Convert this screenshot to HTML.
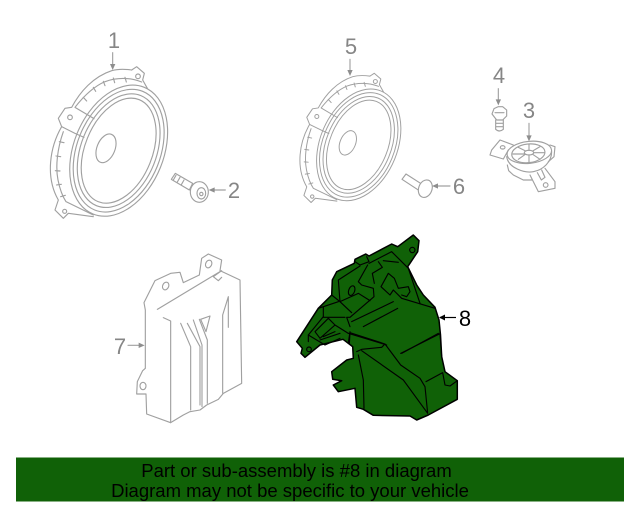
<!DOCTYPE html>
<html><head><meta charset="utf-8"><style>
html,body{margin:0;padding:0;background:#fff;width:640px;height:512px;overflow:hidden}
svg{display:block}
text{font-family:"Liberation Sans",sans-serif}
.l{font-size:22px;fill:#868686;text-anchor:middle}
.g{fill:none;stroke:#a0a0a0;stroke-width:3.4;stroke-linejoin:round;stroke-linecap:round}
.k{fill:none;stroke:#000;stroke-width:3.4;stroke-linejoin:round;stroke-linecap:round}
</style></head><body>
<svg width="640" height="512" viewBox="0 0 640 512" xmlns="http://www.w3.org/2000/svg">
<defs>
<g id="spk">
<path class="g" d="M305,150Q270,145 245,152C190,170 150,215 125,262L105,265L85,295L95,320C60,380 45,470 85,540L75,570L100,595L115,580L190,590"/>
<path class="g" d="M305,150L320,140L343,160L338,180L352,205"/>
<circle class="g" cx="324" cy="169" r="7"/>
<circle class="g" cx="120" cy="292" r="7"/>
<circle class="g" cx="104" cy="574" r="6"/>
<ellipse class="g" cx="266" cy="392" rx="135" ry="205" transform="rotate(22 266 392)"/>
<ellipse class="g" cx="266" cy="392" rx="125" ry="192" transform="rotate(22 266 392)"/>
<ellipse class="g" cx="266" cy="392" rx="113" ry="178" transform="rotate(22 266 392)"/>
<ellipse class="g" cx="266" cy="392" rx="101" ry="165" transform="rotate(22 266 392)"/>
<ellipse class="g" cx="228" cy="385" rx="27" ry="45" transform="rotate(22 228 385)"/>
<path class="g" d="M335,186C300,172 260,172 225,185C190,200 160,230 135,262L192,296M95,320L135,340L162,352M100,335C82,385 76,440 84,480C90,510 98,530 108,545L190,585"/>
<path class="g" d="M285,172l4,14M250,174l4,14M220,184l5,13M190,202l7,12M160,232l10,11M88,365l14,3M78,408l14,2M76,452l14,1M80,495l14,-2M92,530l14,-4"/>
</g>
</defs>

<!-- Speaker 1 -->
<g transform="translate(30,20) scale(.33333)">
<use href="#spk"/>
<path class="g" d="M248,98V140"/>
<path d="M240,132L248,150L256,132Z" fill="#8e8e8e"/>
<path class="g" d="M436,460L424,478L478,510L488,490Z"/>
<path class="g" d="M438,466l-8,14M450,472l-8,14M462,480l-8,14"/>
<ellipse class="g" cx="508" cy="516" rx="27" ry="31" style="fill:#fff"/>
<ellipse class="g" cx="514" cy="520" rx="13" ry="17"/>
<circle class="g" cx="514" cy="522" r="5"/>
<path class="g" d="M552,510H586"/>
<path d="M536,510L554,502V518Z" fill="#8e8e8e"/>
</g>

<!-- Speaker 5 -->
<g transform="translate(297.3,73.3) scale(.287,.284) translate(-52,-140)">
<use href="#spk"/>
</g>
<g transform="translate(280,20) scale(.33333)">
<path class="g" d="M210,118V158"/><path d="M202,150L210,168L218,150Z" fill="#8e8e8e"/>
<path class="g" d="M378,462L366,478L418,512L428,494Z"/>
<ellipse class="g" cx="436" cy="506" rx="20" ry="27" transform="rotate(20 436 506)" style="fill:#fff"/>
<path class="g" d="M472,498H510"/><path d="M456,498L474,490V506Z" fill="#8e8e8e"/>
<path class="g" d="M655,206V246"/><path d="M647,238L655,256L663,238Z" fill="#8e8e8e"/>
</g>

<!-- bolt 4 + tweeter 3 -->
<g transform="translate(480,90) scale(.33333)">
<path class="g" d="M36,72L42,56L55,50H68L80,60L80,78L68,90H50Z"/>
<path class="g" d="M45,68H72"/>
<path class="g" d="M47,90V118Q58,128 70,118V90M47,100h23M47,110h23"/>
<path class="g" d="M147,100V143"/><path d="M139,136L147,154L155,136Z" fill="#8e8e8e"/>
<path class="g" d="M100,165L60,150L35,180L30,195L70,207L85,180"/>
<ellipse class="g" cx="68" cy="172" rx="7" ry="5"/>
<ellipse class="g" cx="148" cy="187" rx="67" ry="33" transform="rotate(-6 148 187)"/>
<ellipse class="g" cx="145" cy="190" rx="50" ry="28" transform="rotate(-6 145 190)"/>
<ellipse class="g" cx="147" cy="188" rx="14" ry="7"/>
<path class="g" d="M98,192H133M161,188H194M147,162V181M147,195V217M115,172L137,183M158,193L180,208M180,170L158,183M115,208L136,193"/>
<path class="g" d="M80,200C85,235 135,250 160,245C190,240 215,215 215,185"/>
<path class="g" d="M210,165L225,170L222,200L205,215"/>
<path class="g" d="M82,225L86,242L100,255L130,270L155,270"/>
<path class="g" d="M150,255L175,305L225,295L225,275L195,235"/>
<circle class="g" cx="197" cy="285" r="7"/>
<path class="g" d="M172,248L184,270L195,262L185,240"/>
</g>

<!-- Module 7 -->
<g transform="translate(100,240) scale(.33333)">
<path class="g" d="M132,188L165,122L212,100L240,97L250,128L298,105L305,55L325,42L365,60L360,92L420,120L425,430L370,460L355,478L320,495L300,510L270,515L250,525L212,548L140,522L138,462L110,462L112,425L128,392L136,385L136,210Z"/>
<ellipse class="g" cx="197" cy="138" rx="9" ry="12" transform="rotate(25 197 138)"/>
<ellipse class="g" cx="326" cy="72" rx="9" ry="12" transform="rotate(25 326 72)"/>
<ellipse class="g" cx="129" cy="438" rx="9" ry="11"/>
<path class="g" d="M172,208L365,92L340,110L355,122L365,112"/>
<path class="g" d="M190,233L212,243L212,548M242,250L272,320V510M262,250L300,320V495M280,240L306,315V500M298,238L322,300V490M302,238L318,275L330,228Z"/>
<path class="g" d="M385,170L368,225V460M385,170V262"/>
<path class="g" d="M84,316H118"/><path d="M116,308L134,316L116,324Z" fill="#8e8e8e"/>
</g>

<!-- Part 8 -->
<path fill="#106107" stroke="#000" stroke-width="1.5" stroke-linejoin="round" d="M413.3,235L419,240.7L417.7,251.7L411.7,260.7L407.7,266.7L416.7,285L423.3,295L435,307.3L439,320L440.5,335L441.7,356.7L445,371.7L457.3,380.7L457.3,399.3L428.3,415L416.7,420L410,416L373.3,415.3L363.3,409.3L356.7,407.3L355,388.3L338.3,391.7L333.3,385L341.7,380.7L332.7,379.3L331.7,371.7L346.7,360L353.3,358.3L352.7,346.7L343,339.3L333.3,341.7L320,345L305,357.3L301,353.3L302.3,348.3L296.7,341.7L318.3,308.3L331.7,295L332.3,280L336.7,271.7L354.3,263.3L355,259.3L365.7,254L369,256L391.7,244L397.7,246.7Z"/>
<g transform="translate(295,230) scale(.33333)">
<path class="k" d="M222,100L290,65L340,115L375,220M265,92L310,97M250,95L262,112L232,130L238,160M180,95L195,105L222,95L215,80M195,108L130,150L135,215L170,248M218,105L190,155L200,165L235,175L237,200L165,262L155,262L165,290M135,215L190,190L225,212"/>
<ellipse class="k" cx="170" cy="182" rx="9" ry="15" transform="rotate(20 170 182)"/>
<path class="k" d="M258,170L285,195L295,180L320,205L420,235M258,170L280,130L298,145L310,175L340,170L345,185L335,200L320,195"/>
<path class="k" d="M170,275L295,215M205,290L308,235"/>
<path class="k" d="M110,195L135,215M70,235L85,230L130,215M85,230L85,260L40,315L40,335M85,262L150,262"/>
<path class="k" d="M100,265L120,285L75,325L60,305ZM120,285L160,310M85,320L120,305M75,330L135,310M40,315L90,345L135,325"/>
<path class="k" d="M165,305L160,338M160,310L275,345M320,370L430,310"/>
<circle class="k" cx="42" cy="358" r="7"/>
<circle class="k" cx="352" cy="60" r="8"/>
</g>
<g transform="translate(330,330) scale(.33333)">
<path class="k" d="M60,8L58,42L68,50M60,8L165,42L212,105L270,145L285,170L293,250M165,42L155,52L95,58L80,65M95,62L220,150L293,250M85,75L100,150L102,235M212,70L328,12M288,155L338,128L345,165L360,168L382,152M330,10L335,80"/>
</g>
<path d="M440,317.5H456" stroke="#000" stroke-width="1.2"/><path d="M439,317.5L445,314.5V320.5Z" fill="#000"/>

<!-- Labels -->
<text class="l" x="114" y="48">1</text>
<text class="l" x="234" y="198">2</text>
<text class="l" x="351" y="54">5</text>
<text class="l" x="499" y="83">4</text>
<text class="l" x="529" y="118">3</text>
<text class="l" x="459" y="194">6</text>
<text class="l" x="120" y="354">7</text>
<text x="465" y="326" style="font-size:22px;fill:#000;text-anchor:middle">8</text>

<!-- Banner -->
<rect x="16" y="457.5" width="608" height="44" fill="#106107"/>
<text x="296.5" y="477" style="font-size:18.5px;fill:#000;text-anchor:middle">Part or sub-assembly is #8 in diagram</text>
<text x="290" y="497" style="font-size:18.5px;fill:#000;text-anchor:middle">Diagram may not be specific to your vehicle</text>
</svg>
</body></html>
